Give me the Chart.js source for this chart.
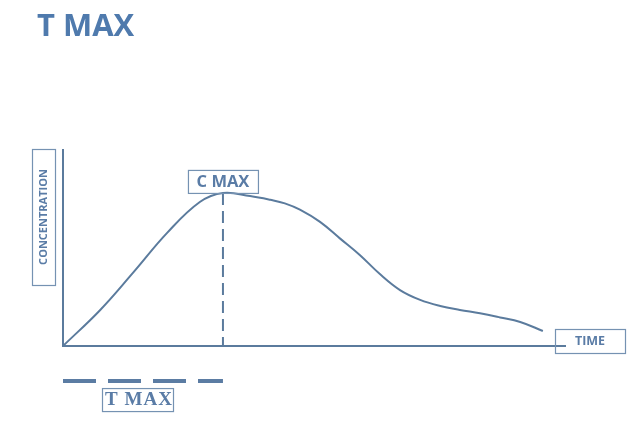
<!DOCTYPE html>
<html>
<head>
<meta charset="utf-8">
<script src="https://cdn.jsdelivr.net/npm/chart.js@4"></script>
<style>
  body { margin: 0; background: #fff; }
  #box { position: relative; width: 638px; height: 422px; }
</style>
</head>
<body>
<div id="box"><canvas id="grafico" width="638" height="422"></canvas></div>
<script>
// curve (time units 0-10, concentration units 0-10)
let tempos = [0, 0.74, 1.39, 2.07, 2.72, 3.18, 3.72, 4.12, 4.41, 4.71, 5.11, 5.51, 5.90, 6.30, 6.70, 7.10, 7.50, 7.89, 8.29, 8.69, 9.09, 9.54]
let concentracoes = [0, 1.83, 3.71, 5.74, 7.31, 7.77, 7.61, 7.42, 7.24, 6.92, 6.30, 5.45, 4.62, 3.65, 2.84, 2.34, 2.03, 1.83, 1.66, 1.45, 1.22, 0.76]
let tMax = 3.18
let cMax = 7.77
let nivelTraco = -1.78
let titulo = 'T MAX'

const corLinha = '#5b7b9d'
const corTexto = '#5a7ca6'

let pontos = tempos.map((t, i) => ({ x: t, y: concentracoes[i] }))

const rotulos = {
    id: 'rotulos',
    afterDraw(chart) {
        let ctx = chart.ctx
        let sx = chart.scales.x
        let sy = chart.scales.y
        let x0 = sx.getPixelForValue(0)
        let y0 = sy.getPixelForValue(0)

        ctx.save()
        // axes
        ctx.strokeStyle = corLinha
        ctx.lineWidth = 2
        ctx.beginPath()
        ctx.moveTo(x0, sy.getPixelForValue(10))
        ctx.lineTo(x0, y0)
        ctx.lineTo(sx.getPixelForValue(10), y0)
        ctx.stroke()

        let caixa = (x, y, w, h) => {
            ctx.strokeStyle = '#7592b2'
            ctx.lineWidth = 1.2
            ctx.strokeRect(x + 0.5, y + 0.5, w, h)
        }

        ctx.textBaseline = 'middle'

        // title
        ctx.textAlign = 'left'
        ctx.font = 'bold 31px "Open Sans"'
        ctx.fillStyle = '#4f7aad'
        ctx.fillText(titulo, 37, 27)

        // C MAX
        ctx.textAlign = 'center'
        ctx.fillStyle = corTexto
        let px = sx.getPixelForValue(tMax)
        let py = sy.getPixelForValue(cMax)
        caixa(px - 35, py - 23, 70, 23)
        ctx.font = 'bold 16.5px "Open Sans"'
        ctx.fillText('C MAX', px, py - 11)

        // TIME
        let fx = sx.getPixelForValue(10)
        caixa(fx - 11, y0 - 17, 70, 24)
        ctx.font = 'bold 12.5px "Open Sans"'
        ctx.fillText('TIME', fx + 24, y0 - 5)

        // CONCENTRATION
        let topo = sy.getPixelForValue(10)
        caixa(x0 - 31, topo, 23, 136)
        ctx.save()
        ctx.translate(x0 - 19.5, topo + 68)
        ctx.rotate(-Math.PI / 2)
        ctx.font = 'bold 11px "Open Sans"'
        ctx.fillText('CONCENTRATION', 0, 0)
        ctx.restore()

        // T MAX under the dashes
        let ty = sy.getPixelForValue(nivelTraco)
        caixa(x0 + 39, ty + 7, 71, 23)
        ctx.font = 'bold 19px "Liberation Serif"'
        ctx.letterSpacing = '1px'
        ctx.fillText('T MAX', x0 + 76, ty + 19.5)
        ctx.restore()
    }
}

var ctx1 = document.getElementById('grafico').getContext('2d')

var grafico = new Chart(ctx1, {
    type: 'scatter',
    data: {
        datasets: [{
            label: 'Concentração',
            data: pontos,
            showLine: true,
            borderColor: corLinha,
            borderWidth: 2,
            pointRadius: 0,
            tension: 0.4,
            clip: false
        }, {
            label: 'C max',
            data: [{ x: tMax, y: cMax }, { x: tMax, y: 0 }],
            showLine: true,
            borderColor: corLinha,
            borderWidth: 2,
            borderDash: [12, 6],
            pointRadius: 0,
            clip: false
        }, {
            label: 'T max',
            data: [{ x: 0, y: nivelTraco }, { x: tMax, y: nivelTraco }],
            showLine: true,
            borderColor: '#5b7ca3',
            borderWidth: 4,
            borderDash: [33, 12],
            pointRadius: 0,
            clip: false
        }]
    },
    options: {
        responsive: false,
        animation: false,
        layout: { padding: { left: 63, right: 72, top: 149, bottom: 76 } },
        scales: {
            x: { type: 'linear', min: 0, max: 10, display: false },
            y: { type: 'linear', min: 0, max: 10, display: false }
        },
        plugins: {
            legend: { display: false },
            tooltip: { enabled: false }
        }
    },
    plugins: [rotulos]
})
</script>
</body>
</html>
